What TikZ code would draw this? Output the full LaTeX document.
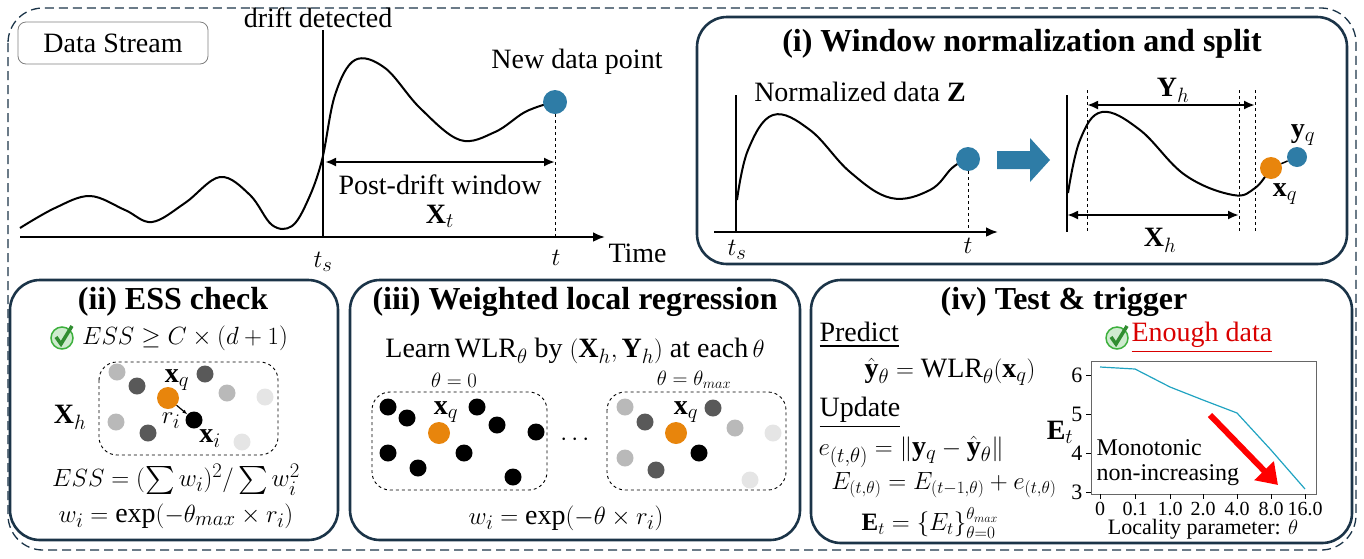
\documentclass[tikz,border=0pt]{standalone}
\usepackage{amsmath,amssymb}
\usepackage{fontspec}
\setmainfont{Liberation Serif}
\usetikzlibrary{arrows.meta,calc}
\definecolor{navy}{HTML}{1B3448}
\definecolor{dotblue}{HTML}{2E7CA6}
\definecolor{dotorange}{HTML}{E8850C}
\definecolor{chk}{HTML}{3DB03D}
\tikzset{
  panel/.style={draw=navy,line width=2.6pt,rounded corners=30pt},
  ttl/.style={font=\fontsize{32}{34}\selectfont\bfseries},
  txt/.style={font=\fontsize{28}{30}\selectfont},
  mth/.style={font=\fontsize{28}{30}\selectfont},
  mths/.style={font=\fontsize{25}{27}\selectfont},
  small/.style={font=\fontsize{22}{24}\selectfont},
  curve/.style={line width=2pt},
  dbl/.style={{Latex[length=11pt,width=9pt]}-{Latex[length=11pt,width=9pt]},line width=2.6pt},
  axis/.style={-{Latex[length=12pt,width=10pt]},line width=2.6pt},
  pbox/.style={draw,dashed,line width=0.9pt,rounded corners=18pt},
  pt/.style={circle,fill=#1,inner sep=0pt,minimum size=17pt},
  bdot/.style={circle,fill=dotblue,inner sep=0pt,minimum size=24pt},
  odot/.style={circle,fill=dotorange,inner sep=0pt,minimum size=22pt},
}
\newcommand{\chkmark}[1]{%
  \fill[chk!25] (#1) circle (11pt);
  \draw[chk,line width=1.5pt] (#1) circle (11pt);
  \draw[chk!80!black,line width=3.5pt] ($(#1)+(-6,-1)$) -- ($(#1)+(-1,6)$) -- ($(#1)+(10,-12)$);}
\begin{document}
\begin{tikzpicture}[x=1pt,y=-1pt]
\useasboundingbox (0,0) rectangle (1364,558);
% outer
\draw[navy,dashed,line width=1.3pt,dash pattern=on 9pt off 5pt,rounded corners=35pt] (8,8) rectangle (1356,550);
% Data stream
\node[draw=gray,rounded corners=8pt,line width=0.8pt,txt,minimum width=190pt,minimum height=42pt] (ds) at (113,43) {Data Stream};
\coordinate (ax0) at (20,237); \coordinate (ax1) at (605,237);
\draw[axis] (ax0) -- (ax1);
\node[txt,anchor=west] (time) at (605,253) {Time};
\draw[line width=1.2pt] (323,237) -- (323,30);
\node[txt] (drift) at (318,18) {drift detected};
\draw[curve] plot[smooth,tension=0.6] coordinates {(20,228) (55,208) (90,196) (125,210) (152,222) (185,203) (220,177) (250,195) (272,225) (292,226) (308,200) (322,160) (335,95) (355,60) (385,68) (420,108) (460,140) (495,132) (525,112) (550,103)};
\node[bdot] (nd) at (555,102) {};
\node[txt] (ndl) at (577,62) {New data point};
\draw[dashed,line width=0.9pt] (nd) -- (555,237);
\coordinate (pw0) at (325,162); \coordinate (pw1) at (555,162);
\draw[dbl] (pw0) -- (pw1);
\node[txt] (pwl) at (440,185) {Post-drift window};
\node[mth] (xt) at (440,216) {$\mathbf{X}_t$};
\node[mth] (ts) at (323,262) {$t_s$};
\node[mth] (tt) at (556,258) {$t$};

% Panel (i)
\draw[panel] (697,17) rectangle (1347,264);
\node[ttl] (t1) at (1022,44) {(i) Window normalization and split};
\node[txt] (nz) at (860,92) {Normalized data $\mathbf{Z}$};
\draw[line width=1.2pt] (736,95) -- (736,232);
\draw[axis] (714,232) -- (998,232);
\draw[curve] plot[smooth,tension=0.65] coordinates {(737,200) (748,150) (773,115) (810,130) (850,172) (891,198) (930,190) (952,168) (965,160)};
\node[bdot] (b1) at (968,159) {};
\draw[dashed,line width=0.9pt] (b1) -- (968,232);
\node[mth] at (737,250) {$t_s$};
\node[mth] at (968,246) {$t$};
\fill[dotblue] (997,151) -- (1030,151) -- (1030,138) -- (1050,160) -- (1030,182) -- (1030,169) -- (997,169) -- cycle;
\draw[line width=1.2pt] (1067,95) -- (1067,232);
\foreach \x in {1087,1239,1255} \draw[dashed,line width=0.8pt] (\x,90) -- (\x,232);
\draw[curve] plot[smooth,tension=0.65] coordinates {(1068,193) (1080,140) (1102,112) (1140,130) (1185,175) (1233,195) (1255,188) (1268,172)};
\node[odot] (xq) at (1271,168) {};
\node[bdot,minimum size=20pt] (yq) at (1297,157) {};
\draw[line width=1.5pt] (xq) -- (yq);
\draw[dbl] (1087,105) -- (1255,105);
\node[mth] at (1173,90) {$\mathbf{Y}_h$};
\draw[dbl] (1067,215) -- (1239,215);
\node[mth] at (1160,240) {$\mathbf{X}_h$};
\node[mth] at (1303,135) {$\mathbf{y}_q$};
\node[mth] at (1285,194) {$\mathbf{x}_q$};

% Panel (ii)
\draw[panel] (10,280) rectangle (338,540);
\node[ttl] (t2) at (173,302) {(ii) ESS check};
\coordinate (c2) at (62,338);
\chkmark{c2}
\node[mth] at (185,338) {$ESS \geq C\times(d+1)$};
\draw[pbox] (99,362) rectangle (278,455);
\node[mth] at (70,417) {$\mathbf{X}_h$};
\node[pt=gray!55] at (117,372) {};
\node[pt=black!65] at (137,386) {};
\node[pt=black!65] at (205,374) {};
\node[pt=gray!55] at (227,393) {};
\node[pt=gray!20] at (265,397) {};
\node[pt=gray!55] at (116,422) {};
\node[pt=black!65] at (148,433) {};
\node[pt=black] (xi) at (194,420) {};
\node[pt=gray!20] at (242,442) {};
\node[odot] (q2) at (168,398) {};
\draw[-{Latex[length=5pt]},line width=1.2pt] (q2) -- (xi);
\node[mth] at (177,380) {$\mathbf{x}_q$};
\node[mth] at (171,421) {$r_i$};
\node[mth] at (210,439) {$\mathbf{x}_i$};
\node[mth] at (176,480) {$ESS=(\sum w_i)^2/\sum w_i^2$};
\node[mth] at (176,516) {$w_i=\exp(-\theta_{max}\times r_i)$};

% Panel (iii)
\draw[panel] (350,280) rectangle (800,540);
\node[ttl] (t3) at (575,302) {(iii) Weighted local regression};
\node[mth] at (575,351) {Learn$\,\mathrm{WLR}_\theta$ by $(\mathbf{X}_h,\mathbf{Y}_h)$ at each$\,\theta$};
\node[small] at (454,380) {$\theta=0$};
\node[small] at (694,380) {$\theta=\theta_{max}$};
\draw[pbox] (372,392) rectangle (547,490);
\draw[pbox] (607,392) rectangle (786,490);
\node[mth] at (577,440) {$\cdots$};
\foreach \p in {(388,407),(407,418),(477,407),(497,425),(536,432),(388,453),(418,468),(464,453),(513,477)} \node[pt=black] at \p {};
\node[odot] at (439,433) {};
\node[mth] at (446,412) {$\mathbf{x}_q$};
\node[pt=gray!55] at (625,407) {};
\node[pt=black!65] at (645,422) {};
\node[pt=black!65] at (713,408) {};
\node[pt=gray!55] at (735,428) {};
\node[pt=gray!20] at (773,433) {};
\node[pt=gray!55] at (625,458) {};
\node[pt=black!65] at (656,470) {};
\node[pt=black] at (699,453) {};
\node[pt=gray!20] at (750,480) {};
\node[odot] at (676,433) {};
\node[mth] at (686,412) {$\mathbf{x}_q$};
\node[mth] at (566,518) {$w_i=\exp(-\theta\times r_i)$};

% Panel (iv)
\draw[panel] (811,280) rectangle (1352,543);
\node[ttl] (t4) at (1064,302) {(iv) Test \& trigger};
\node[txt,anchor=west] at (816,335) {\underline{Predict}};
\node[mth] at (950,372) {$\hat{\mathbf{y}}_\theta=\mathrm{WLR}_\theta(\mathbf{x}_q)$};
\node[txt,anchor=west] at (816,413) {\underline{Update}};
\node[mth,anchor=west] at (815,452) {$e_{(t,\theta)}=\|\mathbf{y}_q-\hat{\mathbf{y}}_\theta\|$};
\node[mths] at (944,485) {$E_{(t,\theta)}=E_{(t-1,\theta)}+e_{(t,\theta)}$};
\node[mths] at (930,523) {$\mathbf{E}_t=\{E_t\}_{\theta=0}^{\theta_{max}}$};
\coordinate (c4) at (1117,338);
\chkmark{c4}
\node[txt,text=red!85!black,anchor=west] at (1128,338) {\underline{Enough data}};
\draw[gray!80!black,line width=1pt] (1091,361) rectangle (1316,494);
\foreach \v/\y in {6/375,5/414,4/453,3/492} {\draw[line width=0.8pt] (1086,\y) -- (1091,\y); \node[small,anchor=east] at (1086,\y) {\v};}
\foreach \l/\x in {0/1100,0.1/1135,1.0/1170,2.0/1203,4.0/1237,8.0/1271,16.0/1305} {\draw[line width=0.8pt] (\x,494) -- (\x,499); \node[small,font=\fontsize{20}{22}\selectfont] at (\x,509) {\l};}
\node[small] at (1203,529) {Locality parameter: $\theta$};
\node[mth] at (1060,432) {$\mathbf{E}_t$};
\draw[dotblue!70!cyan,line width=1.2pt] (1100,367) -- (1135,369) -- (1170,387) -- (1203,400) -- (1237,413) -- (1271,450) -- (1305,489);
\draw[red,line width=6pt,-{Triangle[length=20pt,width=26pt]}] (1210,415) -- (1278,485);
\node[anchor=west,align=left,font=\fontsize{24}{25}\selectfont] at (1093,463) {Monotonic\\non-increasing};
\end{tikzpicture}
\end{document}
